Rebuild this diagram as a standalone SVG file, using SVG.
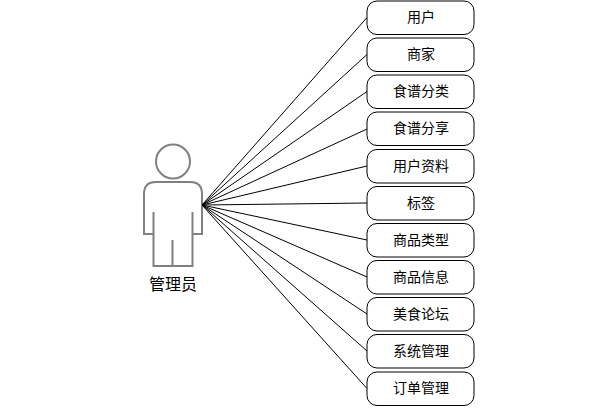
<svg xmlns="http://www.w3.org/2000/svg" width="609" height="409" viewBox="0 0 609 409">
<style>
.box{fill:#fff;stroke:#000;stroke-width:1}
.t{font-family:"Noto Sans CJK SC","Liberation Sans",sans-serif;font-size:14px;fill:#000;text-anchor:middle}
.p{fill:none;stroke:#808080;stroke-width:2}
.c{stroke:#000;stroke-width:1;fill:none}
</style>
<rect width="609" height="409" fill="#fff"/>
<g id="actor">
<circle class="p" cx="173" cy="161.500" r="17"/>
<path class="p" d="M153.500 234H144V194Q144 182 156 182H190Q202 182 202 194V234H192.500M153.500 212V266H192.500V212M172.500 240V266"/>
<text class="t" style="font-size:16px" x="173" y="290">管理员</text>
</g>
<g id="connectors">
<path class="c" d="M202 205L367 17.500M202 205L367 54.500M202 205L367 91.500M202 205L367 129M202 205L367 166M202 205L367 203M202 205L367 240M202 205L367 277M202 205L367 314M202 205L367 351M202 205L367 388.500"/>
</g>
<g id="n1"><rect class="box" x="367" y="1" width="107" height="33.500" rx="10"/><text class="t" x="421" y="22">用户</text></g>
<g id="n2"><rect class="box" x="367" y="38" width="107" height="33.500" rx="10"/><text class="t" x="421" y="59">商家</text></g>
<g id="n3"><rect class="box" x="367" y="75" width="107" height="33.500" rx="10"/><text class="t" x="421" y="96">食谱分类</text></g>
<g id="n4"><rect class="box" x="367" y="112" width="107" height="33.500" rx="10"/><text class="t" x="421" y="133">食谱分享</text></g>
<g id="n5"><rect class="box" x="367" y="149.500" width="107" height="33.500" rx="10"/><text class="t" x="421" y="171">用户资料</text></g>
<g id="n6"><rect class="box" x="367" y="186.500" width="107" height="33.500" rx="10"/><text class="t" x="421" y="208">标签</text></g>
<g id="n7"><rect class="box" x="367" y="223.500" width="107" height="33.500" rx="10"/><text class="t" x="421" y="245">商品类型</text></g>
<g id="n8"><rect class="box" x="367" y="260.500" width="107" height="33.500" rx="10"/><text class="t" x="421" y="282">商品信息</text></g>
<g id="n9"><rect class="box" x="367" y="297.500" width="107" height="33.500" rx="10"/><text class="t" x="421" y="319">美食论坛</text></g>
<g id="n10"><rect class="box" x="367" y="334.500" width="107" height="33.500" rx="10"/><text class="t" x="421" y="356">系统管理</text></g>
<g id="n11"><rect class="box" x="367" y="372" width="107" height="33.500" rx="10"/><text class="t" x="421" y="393">订单管理</text></g>
</svg>
